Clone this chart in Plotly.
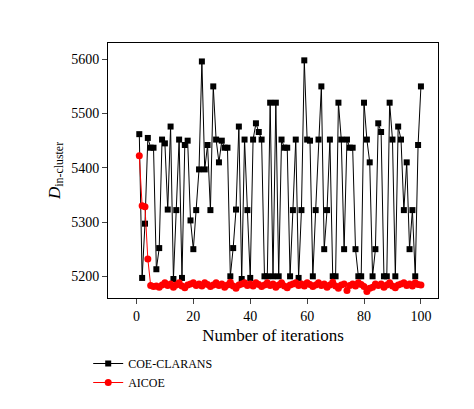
import plotly.graph_objects as go

iters = list(range(1, 101))
coe = [5462,5197,5297,5455,5437,5437,5213,5252,5452,5445,5323,5476,5195,5322,5452,5197,5442,5450,5303,5250,
       5322,5397,5596,5397,5442,5322,5550,5452,5410,5450,5437,5437,5200,5252,5323,5476,5195,5452,5322,5197,
       5452,5482,5466,5452,5200,5200,5520,5200,5520,5200,5452,5437,5437,5200,5322,5452,5197,5322,5598,5452,
       5450,5200,5322,5452,5550,5250,5322,5452,5200,5200,5520,5452,5250,5452,5437,5437,5250,5200,5200,5520,
       5452,5410,5200,5250,5482,5466,5200,5200,5520,5452,5200,5476,5452,5322,5410,5250,5322,5200,5442,5550]
aicoe = [5422,5330,5328,5232,5183,5181,5182,5180,5184,5188,5183,5186,5180,5184,5188,5182,5179,5184,5186,5188,
         5183,5186,5182,5188,5185,5181,5184,5188,5183,5186,5180,5184,5189,5182,5178,5184,5186,5188,5183,5186,
         5182,5188,5185,5181,5184,5188,5183,5186,5180,5184,5188,5182,5179,5184,5186,5188,5183,5186,5182,5188,
         5185,5181,5184,5188,5183,5186,5180,5184,5189,5182,5178,5184,5186,5174,5183,5186,5182,5188,5185,5181,
         5172,5178,5180,5186,5183,5186,5180,5184,5188,5182,5179,5184,5186,5188,5183,5186,5182,5188,5185,5184]

fig = go.Figure()
fig.add_trace(go.Scatter(x=iters, y=coe, mode="lines+markers", name="COE-CLARANS",
                         line=dict(color="black", width=1), marker=dict(symbol="square", size=6, color="black")))
fig.add_trace(go.Scatter(x=iters, y=aicoe, mode="lines+markers", name="AICOE",
                         line=dict(color="red", width=1), marker=dict(symbol="circle", size=7, color="red")))
font = dict(family="Liberation Serif", size=14, color="black")
fig.update_layout(
    width=474, height=409, margin=dict(l=100, r=44, t=35, b=119),
    plot_bgcolor="white", paper_bgcolor="white", font=font,
    showlegend=True,
    legend=dict(x=-0.06, y=-0.2, xanchor="left", yanchor="top", bgcolor="rgba(0,0,0,0)",
                font=dict(size=12), tracegroupgap=0),
    xaxis=dict(range=[-10, 106], tickvals=[0, 20, 40, 60, 80, 100], showline=True, linecolor="black",
               mirror=True, ticks="outside", showgrid=False, zeroline=False,
               title=dict(text="Number of iterations", standoff=6)),
    yaxis=dict(range=[5160, 5630], tickvals=[5200, 5300, 5400, 5500, 5600], showline=True, linecolor="black",
               mirror=True, ticks="outside", showgrid=False, zeroline=False,
               title=dict(text="<i>D</i><sub>in-cluster</sub>", standoff=6)),
)
fig.write_html("out.html")
